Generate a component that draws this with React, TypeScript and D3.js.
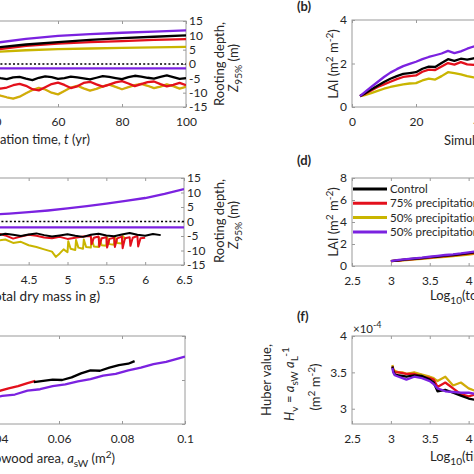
import React, { useRef, useEffect } from 'react';
import * as d3 from 'd3';

const FONT = "Lato, 'Open Sans', Arial, sans-serif";
const INK = '#262626';
const BOX = '#9a9a9a';

const black = '#000000';
const red = '#e3101c';
const yellow = '#c9b500';
const purple = '#7b22e0';
const orange = '#dca21e';

const legendLabels = ['Control', '75% precipitation', '50% precipitation', '50% precipitation, deep soil'];
const legendColors = [black, red, yellow, purple];

// (a) time series, top group (upper curves) and rooting depth (lower)
const timeTopA = [36, 40, 50, 60, 70, 80, 90, 100];
const purpleTopA = [6.8, 7.3, 8.8, 9.8, 10.4, 10.9, 11.3, 11.7];
const blackTopA = [5.3, 5.7, 6.8, 7.6, 8.4, 9.0, 9.5, 10.0];
const redTopA = [4.6, 5.0, 6.3, 7.1, 7.6, 8.0, 8.4, 8.7];
const yellowTopA = [4.0, 4.2, 4.8, 5.2, 5.4, 5.6, 5.8, 6.0];
const timeFlatA = [36, 100];
const purpleFlatA = [-1.5, -1.5];
const timeLowA = [36, 38, 40, 42, 44, 46, 48, 50, 52, 54, 56, 58, 60, 62, 64, 66, 68, 70, 72, 74, 76, 78, 80, 82, 84, 86, 88, 90, 92, 94, 96, 98, 100];
const blackLowA = [-4.6, -5.0, -4.4, -4.9, -5.3, -4.7, -4.5, -5.1, -5.6, -4.8, -4.3, -4.6, -5.2, -4.9, -4.4, -4.7, -5.0, -5.4, -4.8, -4.2, -4.5, -4.9, -5.3, -4.6, -4.1, -4.4, -4.8, -5.1, -4.5, -4.0, -4.6, -5.2, -4.9];
const redLowA = [-6.0, -6.8, -7.9, -8.6, -8.2, -7.4, -6.9, -7.6, -8.8, -9.2, -8.1, -7.0, -6.5, -7.3, -8.4, -7.8, -6.6, -6.2, -7.1, -7.9, -7.2, -6.4, -6.0, -6.8, -7.7, -7.0, -6.3, -6.1, -7.0, -7.8, -7.3, -6.6, -7.4];
const yellowLowA = [-8.5, -9.4, -10.3, -11.0, -11.6, -12.1, -11.4, -10.2, -9.1, -8.3, -8.9, -10.0, -10.6, -9.4, -8.2, -7.6, -8.5, -9.3, -8.7, -7.8, -7.2, -8.0, -8.8, -8.1, -7.4, -6.9, -7.6, -8.4, -7.9, -7.1, -7.7, -8.6, -8.0];

// (b) LAI vs time
const timeB = [2.5, 4, 6, 8, 10, 12, 14, 16, 18, 20, 22, 24, 26, 28, 30, 32, 34, 36, 38, 40];
const purpleB = [0.5, 0.68, 0.92, 1.15, 1.38, 1.58, 1.74, 1.88, 1.98, 2.08, 2.2, 2.3, 2.38, 2.46, 2.58, 2.48, 2.56, 2.68, 2.78, 2.84];
const blackB = [0.5, 0.62, 0.8, 0.98, 1.15, 1.3, 1.42, 1.52, 1.56, 1.6, 1.76, 1.86, 1.84, 2.02, 2.2, 2.12, 2.22, 2.18, 2.24, 2.3];
const redB = [0.5, 0.6, 0.76, 0.92, 1.04, 1.16, 1.28, 1.38, 1.42, 1.45, 1.62, 1.72, 1.7, 1.86, 2.02, 1.95, 2.06, 1.96, 1.94, 2.0];
const yellowB = [0.5, 0.55, 0.64, 0.74, 0.84, 0.92, 0.98, 1.04, 1.08, 1.1, 1.22, 1.3, 1.26, 1.42, 1.6, 1.56, 1.5, 1.42, 1.36, 1.4];

// (c) vs log10 total dry mass
const massPurpleC = [4.0, 4.25, 4.5, 4.75, 5.0, 5.25, 5.5, 5.75, 6.0, 6.25, 6.5];
const purpleC = [2.3, 2.7, 3.2, 3.8, 4.5, 5.3, 6.2, 7.1, 8.1, 9.5, 11.2];
const massFlatC = [3.9, 6.5];
const purpleFlatC = [-2.0, -2.0];
const massBlackC = [4.0, 4.1, 4.2, 4.3, 4.4, 4.5, 4.6, 4.7, 4.8, 4.9, 5.0, 5.1, 5.2, 5.3, 5.4, 5.5, 5.6, 5.7, 5.8, 5.9, 6.0, 6.1, 6.2];
const blackC = [-4.3, -4.8, -4.2, -4.6, -5.0, -4.5, -4.1, -4.7, -5.2, -4.8, -4.4, -4.9, -5.3, -4.6, -4.2, -4.8, -5.1, -4.5, -4.0, -4.6, -4.9, -4.3, -4.7];
const massRedC = [4.0, 4.1, 4.2, 4.3, 4.4, 4.5, 4.6, 4.7, 4.8, 4.9, 5.0, 5.1, 5.2, 5.3, 5.31, 5.34, 5.4, 5.41, 5.44, 5.5, 5.51, 5.54, 5.6, 5.61, 5.64, 5.7, 5.71, 5.74, 5.8, 5.81, 5.84, 5.9, 5.91, 5.94, 6.0];
const redC = [-4.5, -4.1, -4.8, -5.9, -5.2, -4.6, -4.9, -5.5, -5.8, -5.3, -6.0, -5.6, -5.2, -5.0, -7.8, -5.6, -5.2, -8.6, -5.8, -5.4, -9.0, -6.0, -5.6, -8.8, -5.8, -5.2, -9.2, -5.8, -5.4, -8.4, -5.6, -5.0, -8.6, -5.8, -5.6];
const massYellowC = [4.0, 4.1, 4.2, 4.3, 4.4, 4.5, 4.6, 4.7, 4.8, 4.85, 4.9, 4.95, 5.0, 5.01, 5.04, 5.1, 5.11, 5.14, 5.2, 5.21, 5.24, 5.3, 5.31, 5.34, 5.4, 5.41, 5.44, 5.5, 5.51, 5.54, 5.6, 5.61, 5.64, 5.7, 5.71, 5.75];
const yellowC = [-5.8, -6.6, -6.2, -7.4, -7.0, -8.2, -8.8, -9.6, -10.4, -12.2, -11.0, -9.6, -10.6, -6.8, -9.4, -9.8, -6.4, -9.0, -9.4, -6.2, -8.8, -9.0, -5.8, -8.6, -8.8, -5.6, -8.2, -8.4, -5.4, -7.8, -8.0, -5.2, -7.4, -7.6, -5.0, -6.2];

// (d) LAI vs log10 time
const logTimeD = [3.0, 3.1, 3.2, 3.3, 3.4, 3.5, 3.6, 3.7, 3.8, 3.9, 4.0, 4.1, 4.2];
const purpleD = [0.45, 0.55, 0.62, 0.7, 0.76, 0.84, 0.92, 1.0, 1.06, 1.14, 1.24, 1.34, 1.44];
const blackD = [0.45, 0.52, 0.6, 0.66, 0.72, 0.8, 0.86, 0.94, 1.0, 1.08, 1.18, 1.26, 1.36];
const redD = [0.45, 0.5, 0.57, 0.63, 0.7, 0.77, 0.83, 0.9, 0.96, 1.03, 1.12, 1.2, 1.3];
const yellowD = [0.45, 0.48, 0.54, 0.6, 0.66, 0.72, 0.78, 0.84, 0.9, 0.96, 1.04, 1.12, 1.2];

// (e) vs sapwood area
const areaPurpleE = [0.038, 0.042, 0.046, 0.05, 0.054, 0.058, 0.062, 0.066, 0.07, 0.074, 0.078, 0.082, 0.086, 0.09, 0.094, 0.098, 0.1];
const purpleE = [1.14, 1.28, 1.34, 1.52, 1.58, 1.72, 1.8, 1.94, 2.04, 2.2, 2.28, 2.44, 2.56, 2.72, 2.82, 2.98, 3.06];
const areaBlackE = [0.052, 0.055, 0.058, 0.061, 0.064, 0.067, 0.07, 0.073, 0.076, 0.079, 0.082, 0.084];
const blackE = [1.9, 1.96, 2.02, 2.0, 2.12, 2.3, 2.44, 2.42, 2.56, 2.68, 2.74, 2.86];
const areaRedE = [0.038, 0.041, 0.044, 0.047, 0.05, 0.0525];
const redE = [1.38, 1.5, 1.62, 1.72, 1.86, 1.96];

// (f) Huber value (x1e-4) vs log10 time
const logTimeF = [3.02, 3.03, 3.05, 3.1, 3.15, 3.2, 3.3, 3.4, 3.5, 3.55, 3.6, 3.7, 3.8, 3.9, 4.0, 4.1];
const purpleF = [3.56, 3.5, 3.46, 3.44, 3.42, 3.4, 3.44, 3.42, 3.38, 3.34, 3.28, 3.24, 3.23, 3.22, 3.22, 3.2];
const blackF = [3.58, 3.52, 3.47, 3.46, 3.45, 3.44, 3.46, 3.45, 3.4, 3.36, 3.24, 3.26, 3.22, 3.18, 3.14, 3.12];
const redF = [3.58, 3.54, 3.5, 3.5, 3.49, 3.48, 3.48, 3.44, 3.42, 3.4, 3.3, 3.36, 3.28, 3.2, 3.17, 3.2];
const yellowF = [3.6, 3.55, 3.52, 3.5, 3.5, 3.48, 3.5, 3.47, 3.44, 3.42, 3.38, 3.44, 3.32, 3.36, 3.28, 3.24];

// text with italic / sub / sup parts
function rich(sel, parts) {
  let shift = 0;
  parts.forEach(([t, s = '']) => {
    let target = 0;
    if (s.includes('sub')) target = 4;
    if (s.includes('sup')) target = -5;
    const ts = sel.append('tspan').text(t).attr('dy', target - shift);
    if (target !== 0) ts.attr('font-size', '0.78em');
    if (s.startsWith('i')) ts.attr('font-style', 'italic');
    shift = target;
  });
  return sel;
}

const fmt = d => String(d);

function drawPanel(svg, id, o) {
  const { x, y, xTicks, yTicks, leftLabels, rightLabels, rightTicks } = o;
  const [x0, x1] = x.range();
  const [y0, y1] = y.range();
  const g = svg.append('g').attr('font-family', FONT);

  svg.append('defs').append('clipPath').attr('id', id)
    .append('rect').attr('x', x0).attr('y', y1).attr('width', x1 - x0).attr('height', y0 - y1);

  const style = (ax, labelled) => {
    ax.select('.domain').remove();
    ax.selectAll('line').attr('stroke', BOX);
    ax.attr('font-family', FONT).attr('font-size', 12);
    ax.selectAll('text').attr('fill', INK);
    if (!labelled) ax.selectAll('text').remove();
  };

  const bottom = g.append('g').attr('transform', `translate(0,${y0})`)
    .call(d3.axisBottom(x).tickValues(xTicks).tickSize(-3).tickFormat(fmt));
  style(bottom, true);
  bottom.selectAll('text').attr('dy', null).attr('y', 19);
  // labels that fall entirely outside the picture are dropped
  bottom.selectAll('.tick').filter(d => x(d) < -12 || x(d) > 486).select('text').remove();

  const top = g.append('g').attr('transform', `translate(0,${y1})`)
    .call(d3.axisTop(x).tickValues(xTicks).tickSize(-3));
  style(top, false);

  if (yTicks) {
    const left = g.append('g').attr('transform', `translate(${x0},0)`)
      .call(d3.axisLeft(y).tickValues(yTicks).tickSize(-3).tickPadding(5).tickFormat(fmt));
    style(left, leftLabels && x0 > 0);
  }
  const right = g.append('g').attr('transform', `translate(${x1},0)`)
    .call(d3.axisRight(rightTicks ? rightTicks.scale : y)
      .tickValues(rightTicks ? rightTicks.values : yTicks).tickSize(-3).tickPadding(3).tickFormat(fmt));
  style(right, rightLabels && x1 < 474);

  g.append('rect').attr('x', x0).attr('y', y1).attr('width', x1 - x0).attr('height', y0 - y1)
    .attr('fill', 'none').attr('stroke', BOX);

  const plot = g.append('g').attr('clip-path', `url(#${id})`);
  const addLine = (xs, ys, color, width = 2.3, dash = null) => {
    const line = d3.line().x((d, i) => x(xs[i])).y(d => y(d));
    const p = plot.append('path').datum(ys).attr('d', line)
      .attr('fill', 'none').attr('stroke', color).attr('stroke-width', width)
      .attr('stroke-linejoin', 'round');
    if (dash) p.attr('stroke-dasharray', dash);
  };
  return { g, addLine };
}

export default function App() {
  const svgRef = useRef(null);

  useEffect(() => {
    const svg = d3.select(svgRef.current);
    svg.selectAll('*').remove();

    const depthTicks = [-15, -10, -5, 0, 5, 10, 15];

    // (a)
    const xA = d3.scaleLinear().domain([0, 100]).range([-134, 186]);
    const yA = d3.scaleLinear().domain([-15, 15]).range([107, 21]);
    const a = drawPanel(svg, 'clipA', { x: xA, y: yA, xTicks: [0, 20, 40, 60, 80, 100], rightLabels: true, rightTicks: { scale: yA, values: depthTicks } });
    a.addLine([0, 100], [0, 0], black, 1.6, '2,2.2');
    a.addLine(timeLowA, yellowLowA, orange);
    a.addLine(timeLowA, yellowLowA, yellow, 1.2);
    a.addLine(timeLowA, redLowA, red);
    a.addLine(timeLowA, blackLowA, black);
    a.addLine(timeFlatA, purpleFlatA, purple);
    a.addLine(timeTopA, yellowTopA, yellow);
    a.addLine(timeTopA, redTopA, red);
    a.addLine(timeTopA, blackTopA, black);
    a.addLine(timeTopA, purpleTopA, purple);

    // (b)
    const xB = d3.scaleLinear().domain([0, 100]).range([352, 672]);
    const yB = d3.scaleLinear().domain([0, 4]).range([107, 20]);
    const b = drawPanel(svg, 'clipB', { x: xB, y: yB, xTicks: [0, 20, 40, 60, 80, 100], yTicks: [0, 2, 4], leftLabels: true });
    b.addLine(timeB, yellowB, yellow);
    b.addLine(timeB, redB, red);
    b.addLine(timeB, blackB, black);
    b.addLine(timeB, purpleB, purple);

    // (c)
    const xC = d3.scaleLinear().domain([3.5, 6.5]).range([-49, 184]);
    const yC = d3.scaleLinear().domain([-15, 15]).range([265, 178]);
    const c = drawPanel(svg, 'clipC', { x: xC, y: yC, xTicks: [3.5, 4, 4.5, 5, 5.5, 6, 6.5], rightLabels: true, rightTicks: { scale: yC, values: depthTicks } });
    c.addLine([3.5, 6.5], [0, 0], black, 1.6, '2,2.2');
    c.addLine(massYellowC, yellowC, yellow, 2);
    c.addLine(massRedC, redC, red, 2);
    c.addLine(massBlackC, blackC, black, 2);
    c.addLine(massFlatC, purpleFlatC, purple);
    c.addLine(massPurpleC, purpleC, purple);

    // (d)
    const xD = d3.scaleLinear().domain([2.5, 6.5]).range([352, 663]);
    const yD = d3.scaleLinear().domain([0, 8]).range([266, 178]);
    const dp = drawPanel(svg, 'clipD', { x: xD, y: yD, xTicks: [2.5, 3, 3.5, 4, 4.5, 5, 5.5, 6, 6.5], yTicks: [0, 2, 4, 6, 8], leftLabels: true });
    dp.addLine(logTimeD, yellowD, yellow);
    dp.addLine(logTimeD, redD, red);
    dp.addLine(logTimeD, blackD, black);
    dp.addLine(logTimeD, purpleD, purple);

    // legend in (d)
    const leg = svg.append('g').attr('font-family', FONT).attr('font-size', 11.5).attr('fill', INK);
    legendLabels.forEach((lab, i) => {
      const yy = 189 + i * 14.3;
      leg.append('line').attr('x1', 353).attr('x2', 387).attr('y1', yy).attr('y2', yy)
        .attr('stroke', legendColors[i]).attr('stroke-width', 3);
      leg.append('text').attr('x', 390).attr('y', yy).attr('dy', '0.35em').text(lab);
    });

    // (e)
    const xE = d3.scaleLinear().domain([0.02, 0.1]).range([-67, 185]);
    const yE = d3.scaleLinear().domain([0, 4]).range([424, 336]);
    const e = drawPanel(svg, 'clipE', { x: xE, y: yE, xTicks: [0.02, 0.04, 0.06, 0.08, 0.1], yTicks: [0, 2, 4], leftLabels: true, rightLabels: false });
    e.addLine(areaPurpleE, purpleE, purple);
    e.addLine(areaRedE, redE, red);
    e.addLine(areaBlackE, blackE, black);

    // (f)
    const xF = d3.scaleLinear().domain([2.5, 6.5]).range([352, 663]);
    const yF = d3.scaleLinear().domain([2.79, 4]).range([424, 336]);
    const f = drawPanel(svg, 'clipF', { x: xF, y: yF, xTicks: [2.5, 3, 3.5, 4, 4.5, 5, 5.5, 6, 6.5], yTicks: [3, 3.5, 4], leftLabels: true });
    f.addLine(logTimeF, yellowF, orange);
    f.addLine(logTimeF, yellowF, yellow, 1.2);
    f.addLine(logTimeF, redF, red);
    f.addLine(logTimeF, blackF, black);
    f.addLine(logTimeF, purpleF, purple);

    // labels
    const t = svg.append('g').attr('font-family', FONT).attr('fill', INK).attr('font-size', 13);

    rich(t.append('text').attr('x', 90).attr('y', 144).attr('text-anchor', 'end'),
      [['Simulation time, '], ['t', 'i'], [' (yr)']]);
    rich(t.append('text').attr('x', 444).attr('y', 145),
      [['Simulation time, '], ['t', 'i'], [' (yr)']]);
    rich(t.append('text').attr('x', 100).attr('y', 301).attr('text-anchor', 'end').attr('font-size', 13.5),
      [['Log'], ['10', 'sub'], ['(Total dry mass in g)']]);
    rich(t.append('text').attr('x', 430).attr('y', 300),
      [['Log'], ['10', 'sub'], ['(total dry mass in g)']]);
    rich(t.append('text').attr('x', 115).attr('y', 463).attr('text-anchor', 'end'),
      [['Sapwood area, '], ['a', 'i'], ['sW', 'sub'], [' (m'], ['2', 'sup'], [')']]);
    rich(t.append('text').attr('x', 430).attr('y', 461),
      [['Log'], ['10', 'sub'], ['(time in yr)']]);

    const rot = (x, y) => t.append('text').attr('text-anchor', 'middle')
      .attr('transform', `translate(${x},${y}) rotate(-90)`);

    // right axis labels (a), (c)
    [64, 221].forEach(cy => {
      rich(rot(224, cy), [['Rooting depth,']]);
      rich(rot(238, cy + 4), [['Z', 'i'], ['95%', 'sub'], [' (m)']]);
    });

    // LAI labels (b), (d)
    [64, 222].forEach(cy => {
      rich(rot(338, cy), [['LAI (m'], ['2', 'sup'], [' m'], ['-2', 'sup'], [')']]);
    });

    // Huber value label (f)
    rich(rot(271, 380), [['Huber value,']]);
    rich(rot(294, 384), [['H', 'i'], ['v', 'sub'], [' = '], ['a', 'i'], ['sW', 'sub'], [' '], ['a', 'i'], ['L', 'sub'], ['-1', 'sup']]);
    rich(rot(320, 387), [['(m'], ['2', 'sup'], [' m'], ['-2', 'sup'], [')']]);

    rich(t.append('text').attr('x', 353).attr('y', 333).attr('font-size', 11.5),
      [['\u00d710'], ['-4', 'sup']]);

    // panel letters
    const p = svg.append('g').attr('font-family', FONT).attr('font-size', 13).attr('font-weight', 'bold').attr('fill', INK);
    p.append('text').attr('x', 297).attr('y', 11).text('(b)');
    p.append('text').attr('x', 297).attr('y', 165).text('(d)');
    p.append('text').attr('x', 297).attr('y', 321).text('(f)');
  }, []);

  return (
    <svg ref={svgRef} width={474} height={474}
      style={{ position: 'absolute', left: 0, top: 0, background: '#fff' }} />
  );
}
